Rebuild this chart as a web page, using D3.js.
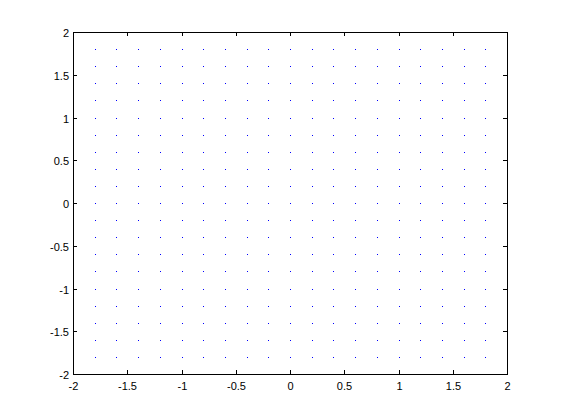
<!DOCTYPE html>
<html>
<head>
<meta charset="utf-8">
<script src="https://cdn.jsdelivr.net/npm/d3@7"></script>
<style>
  body { margin: 0; background: #fff; }
  text { font-family: "Liberation Sans", Arial, sans-serif; font-size: 11px; fill: #000; }
</style>
</head>
<body>
<div id="chart"></div>
<script>
// grid coordinates of the dots (same for x and y)
const gridX = [-1.8, -1.6, -1.4, -1.2, -1, -0.8, -0.6, -0.4, -0.2, 0, 0.2, 0.4, 0.6, 0.8, 1, 1.2, 1.4, 1.6, 1.8];
const gridY = [-1.8, -1.6, -1.4, -1.2, -1, -0.8, -0.6, -0.4, -0.2, 0, 0.2, 0.4, 0.6, 0.8, 1, 1.2, 1.4, 1.6, 1.8];
const xTicks = [-2, -1.5, -1, -0.5, 0, 0.5, 1, 1.5, 2];
const yTicks = [-2, -1.5, -1, -0.5, 0, 0.5, 1, 1.5, 2];

const W = 561, H = 420;
const margin = { top: 32, right: 54, bottom: 46, left: 73 };
const width = W - margin.left - margin.right;
const height = H - margin.top - margin.bottom;

const svg = d3.select("#chart").append("svg")
  .attr("width", W).attr("height", H);
const g = svg.append("g").attr("transform", `translate(${margin.left},${margin.top})`);

const x = d3.scaleLinear().domain([-2, 2]).range([0, width]);
const y = d3.scaleLinear().domain([-2, 2]).range([height, 0]);

// dots
const pts = [];
gridX.forEach(a => gridY.forEach(b => pts.push([a, b])));
g.selectAll("rect.dot").data(pts).enter().append("rect")
  .attr("class", "dot")
  .attr("x", d => Math.round(x(d[0])))
  .attr("y", d => Math.round(y(d[1])))
  .attr("width", 1).attr("height", 1)
  .attr("fill", "#0000ff");

// frame
g.append("rect").attr("x", 0.5).attr("y", 0.5)
  .attr("width", width).attr("height", height)
  .attr("fill", "none").attr("stroke", "#000");

const fmt = d => String(d);
const tl = 4;
// x ticks (bottom and top, inward)
xTicks.forEach(t => {
  const px = Math.round(x(t)) + 0.5;
  g.append("line").attr("x1", px).attr("x2", px).attr("y1", height).attr("y2", height - tl).attr("stroke", "#000");
  g.append("line").attr("x1", px).attr("x2", px).attr("y1", 0).attr("y2", tl).attr("stroke", "#000");
  g.append("text").attr("x", px).attr("y", height + 16).attr("text-anchor", "middle").text(fmt(t));
});
// y ticks (left and right, inward)
yTicks.forEach(t => {
  const py = Math.round(y(t)) + 0.5;
  g.append("line").attr("x1", 0).attr("x2", tl).attr("y1", py).attr("y2", py).attr("stroke", "#000");
  g.append("line").attr("x1", width).attr("x2", width - tl).attr("y1", py).attr("y2", py).attr("stroke", "#000");
  g.append("text").attr("x", -4).attr("y", py + 4).attr("text-anchor", "end").text(fmt(t));
});
</script>
</body>
</html>
